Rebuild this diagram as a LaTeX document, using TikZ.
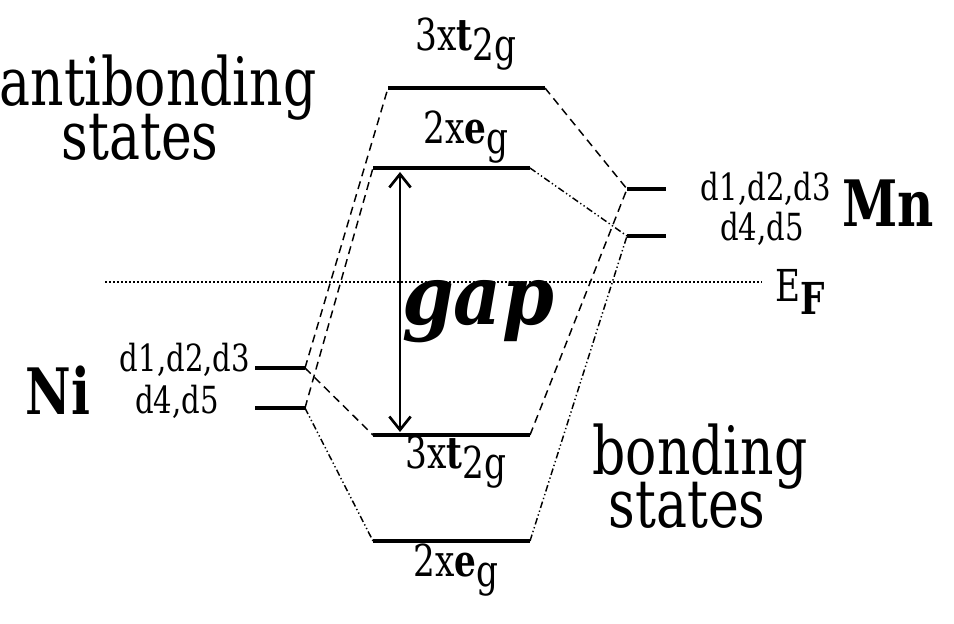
\documentclass[tikz,border=0pt]{standalone}
\usepackage{fontspec}
\usetikzlibrary{arrows.meta}
\setmainfont{DejaVu Serif}[FakeStretch=0.78]
\begin{document}
\begin{tikzpicture}[x=0.75pt,y=-0.75pt,
 lvl/.style={line width=2.4pt},
 con/.style={line width=1.1pt},
 dsh/.style={con,dash pattern=on 6pt off 4pt},
 ddot/.style={con,dash pattern=on 5pt off 2pt on 1pt off 2pt on 1pt off 2pt},
 big/.style={font=\fontsize{50}{48}\selectfont,inner sep=0pt},
 mid/.style={font=\fontsize{33}{35}\selectfont},
 sml/.style={font=\fontsize{28}{30}\selectfont}]
\useasboundingbox (0,0) rectangle (954,624);
% levels
\coordinate (tA) at (388,88); \coordinate (tB) at (545,88);
\coordinate (eA) at (373,168); \coordinate (eB) at (530,168);
\coordinate (m1A) at (627,189); \coordinate (m1B) at (666,189);
\coordinate (m2A) at (627,236); \coordinate (m2B) at (666,236);
\coordinate (n1A) at (255,368); \coordinate (n1B) at (305,368);
\coordinate (n2A) at (255,408); \coordinate (n2B) at (305,408);
\coordinate (bA) at (373,435); \coordinate (bB) at (530,435);
\coordinate (cA) at (373,541); \coordinate (cB) at (530,541);
\coordinate (fA) at (105,282); \coordinate (fB) at (762,282);
\coordinate (gT) at (400,172); \coordinate (gB) at (400,432);
\foreach \p in {t,e,m1,m2,n1,n2,b,c} \draw[lvl] (\p A) -- (\p B);
\draw[line width=2pt,dash pattern=on 1.5pt off 1.5pt] (fA) -- (fB);
\draw[line width=2pt,{Straight Barb[length=10pt,width=16pt]}-{Straight Barb[length=10pt,width=16pt]}] (gT) -- (gB);
% connectors
\draw[dsh] (n1B) -- (tA);
\draw[dsh] (n2B) -- (eA);
\draw[dsh] (n1B) -- (bA);
\draw[ddot] (n2B) -- (cA);
\draw[dsh] (tB) -- (m1A);
\draw[ddot] (eB) -- (m2A);
\draw[dsh] (bB) -- (m1A);
\draw[ddot] (cB) -- (m2A);
% labels
\node[mid] (l1) at (466,44) {3x\textbf{t}\raisebox{-8pt}{2g}};
\node[mid] (l2) at (466,137) {2x\textbf{e}\raisebox{-8pt}{g}};
\node[mid] (l3) at (456,462) {3x\textbf{t}\raisebox{-8pt}{2g}};
\node[mid] (l4) at (456,570) {2x\textbf{e}\raisebox{-8pt}{g}};
\node[big,anchor=base] (ab1) at (158,106) {antibonding};
\node[big,anchor=base] (ab2) at (140,160) {states};
\node[big,anchor=base] (bo1) at (700,474) {bonding};
\node[big,anchor=base] (bo2) at (687,527) {states};
\node[sml] (m1) at (766,189) {d1,d2,d3};
\node[sml] (m2) at (762,229) {d4,d5};
\node[font=\fontsize{48}{48}\selectfont\bfseries] (mn) at (888,203) {Mn};
\node[sml] (n1) at (185,360) {d1,d2,d3};
\node[sml] (n2) at (177,402) {d4,d5};
\node[font=\fontsize{48}{48}\selectfont\bfseries] (ni) at (58,390) {Ni};
\node[mid] (ef) at (800,292) {E\raisebox{-10pt}{\textbf{F}}};
\node[font=\fontsize{62}{64}\selectfont\bfseries\itshape,xscale=1.15] (gap) at (478,312) {gap};
\end{tikzpicture}
\end{document}
